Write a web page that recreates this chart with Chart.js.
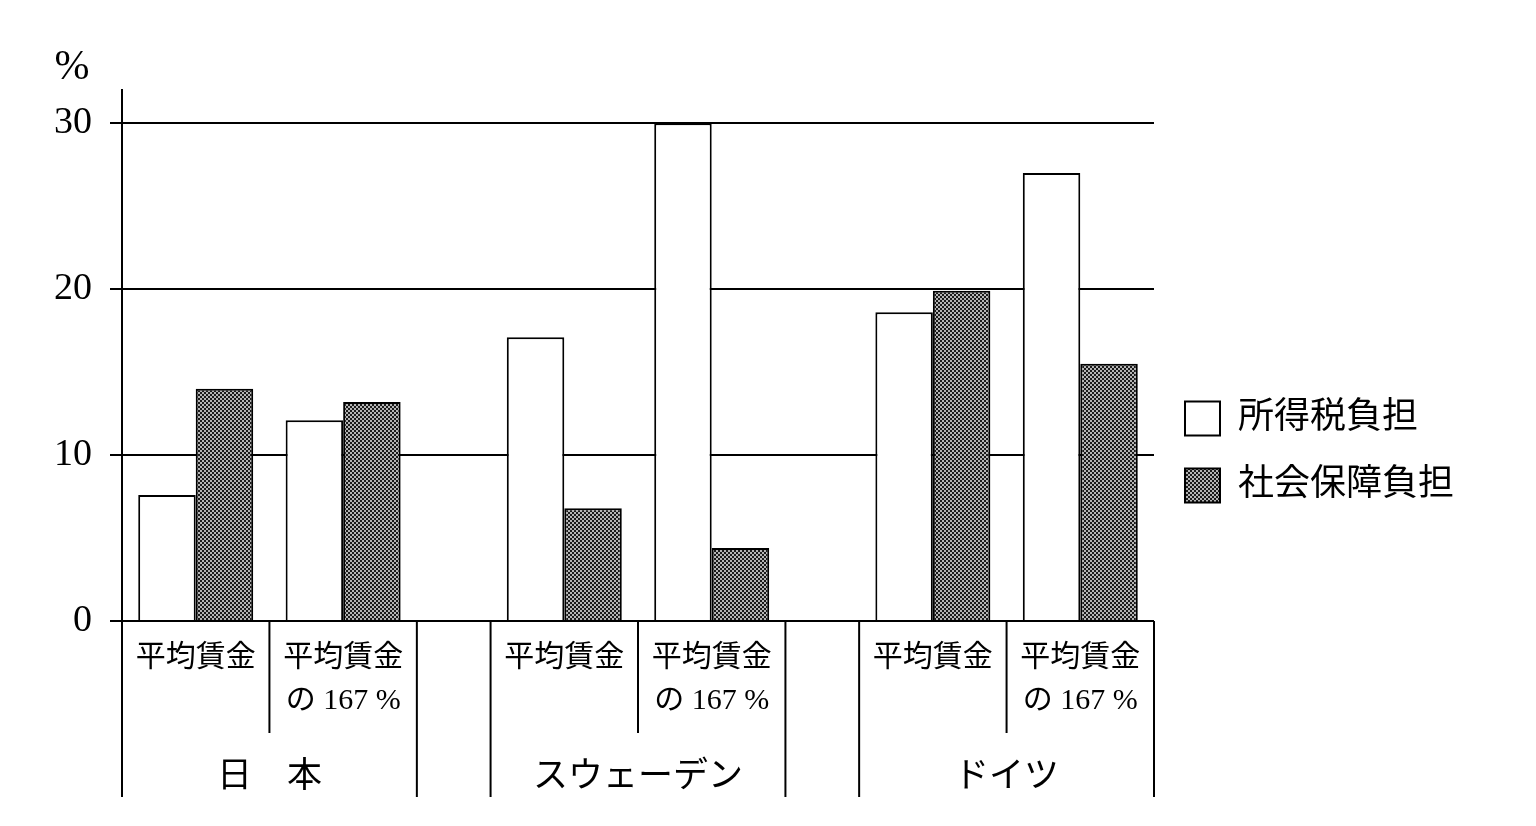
<!DOCTYPE html>
<html>
<head>
<meta charset="utf-8">
<script src="https://cdn.jsdelivr.net/npm/chart.js@4.4.0/dist/chart.umd.min.js"></script>
<style>
  html, body { margin: 0; background: #fff; }
  #wrap { width: 1536px; height: 826px; }
</style>
</head>
<body>
<div id="wrap"><canvas id="c"></canvas></div>
<script>
const countries = ['日　本', 'スウェーデン', 'ドイツ'];
const wageLevels = [['平均賃金'], ['平均賃金', 'の 167 %']];
const seriesNames = ['所得税負担', '社会保障負担'];
const incomeTax = [7.6, 12.1, 17.1, 30.0, 18.6, 27.0];
const socialSecurity = [14.0, 13.2, 6.8, 4.4, 19.9, 15.5];
const yTicks = [0, 10, 20, 30];

const serif = '"Liberation Serif", "Noto Sans CJK JP", serif';

// each country has two slots, countries are half a slot apart
function slotX(i) {
  return i + 0.5 + Math.floor(i / 2) * 0.5;
}
const slotCount = countries.length * 2 + (countries.length - 1) * 0.5;

const ctx = document.getElementById('c').getContext('2d');

// fine checker stipple like the printed dark bars
function stipple() {
  const t = document.createElement('canvas');
  t.width = 4; t.height = 4;
  const g = t.getContext('2d');
  g.fillStyle = '#b4b4b4';
  g.fillRect(0, 0, 4, 4);
  g.fillStyle = '#1a1a1a';
  g.fillRect(0, 0, 2, 2);
  g.fillRect(2, 2, 2, 2);
  return ctx.createPattern(t, 'repeat');
}

// table lines under the axis + country names + unit sign
const tablePlugin = {
  id: 'table',
  afterDraw(chart) {
    const c = chart.ctx;
    const x = chart.scales.x;
    const top = chart.chartArea.bottom;
    const groupBottom = top + 176;
    const subBottom = top + 112;
    c.save();
    c.strokeStyle = '#000';
    c.lineWidth = 2;
    countries.forEach((name, g) => {
      const start = g * 2.5;
      [[start, groupBottom], [start + 1, subBottom], [start + 2, groupBottom]].forEach(([v, yb]) => {
        const px = x.getPixelForValue(v);
        c.beginPath();
        c.moveTo(px, top);
        c.lineTo(px, yb);
        c.stroke();
      });
    });
    c.fillStyle = '#000';
    c.textAlign = 'center';
    c.textBaseline = 'middle';
    c.font = '35px ' + serif;
    countries.forEach((name, g) => {
      c.fillText(name, x.getPixelForValue(g * 2.5 + 1), top + 157);
    });
    c.font = '42px ' + serif;
    c.fillText('%', chart.chartArea.left - 50, chart.chartArea.top - 22);
    c.restore();
  }
};

new Chart(ctx, {
  type: 'bar',
  data: {
    datasets: [
      {
        label: seriesNames[0],
        data: incomeTax.map((v, i) => ({ x: slotX(i), y: v })),
        backgroundColor: '#fff',
        borderColor: '#000',
        borderWidth: 2
      },
      {
        label: seriesNames[1],
        data: socialSecurity.map((v, i) => ({ x: slotX(i), y: v })),
        backgroundColor: stipple(),
        borderColor: '#000',
        borderWidth: 2
      }
    ]
  },
  options: {
    responsive: true,
    maintainAspectRatio: false,
    animation: false,
    categoryPercentage: 0.78,
    barPercentage: 1.0,
    layout: { padding: { top: 90, bottom: 12, left: 36, right: 72 } },
    plugins: {
      tooltip: { enabled: false },
      legend: {
        position: 'right',
        labels: {
          boxWidth: 35,
          boxHeight: 34,
          padding: 31,
          color: '#000',
          font: { family: serif, size: 36 }
        }
      }
    },
    scales: {
      x: {
        type: 'linear',
        min: 0,
        max: slotCount,
        offset: false,
        afterBuildTicks: s => { s.ticks = incomeTax.map((_, i) => ({ value: slotX(i) })); },
        afterFit: s => { s.height = 193; },
        grid: { display: false, drawTicks: false },
        border: { display: true, color: '#000', width: 2 },
        ticks: {
          autoSkip: false,
          maxRotation: 0,
          padding: 15,
          color: '#000',
          font: { family: serif, size: 30, lineHeight: 1.45 },
          callback: (v, i) => wageLevels[i % 2]
        }
      },
      y: {
        min: 0,
        max: 32,
        afterBuildTicks: s => { s.ticks = yTicks.map(v => ({ value: v })); },
        grid: { color: '#000', lineWidth: 2, tickLength: 12 },
        border: { display: true, color: '#000', width: 2 },
        ticks: {
          padding: 18,
          color: '#000',
          font: { family: serif, size: 38 }
        }
      }
    }
  },
  plugins: [tablePlugin]
});
</script>
</body>
</html>
